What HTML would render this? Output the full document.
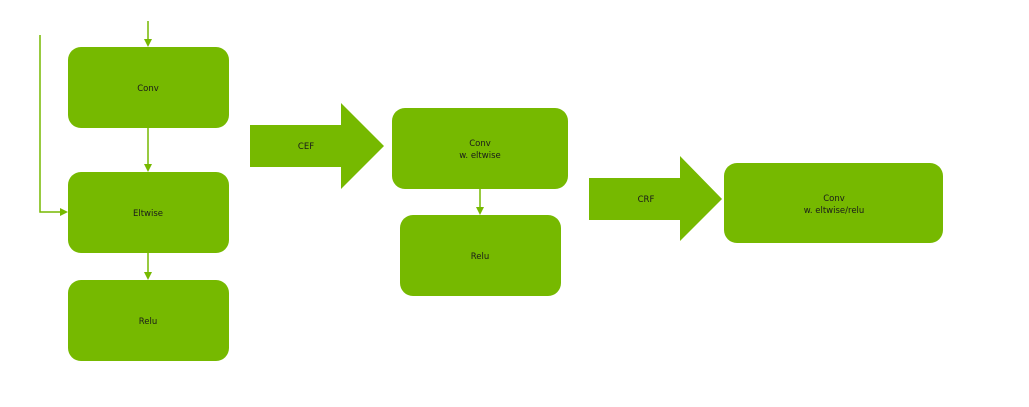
<!DOCTYPE html>
<html><head><meta charset="utf-8"><style>
html,body{margin:0;padding:0;background:#fff;}
svg{display:block;}
text{font-family:"DejaVu Sans","Liberation Sans",sans-serif;font-size:8.5px;fill:#1a1a1a;text-anchor:middle;}
</style></head><body>
<svg width="1029" height="407" viewBox="0 0 1029 407" xmlns="http://www.w3.org/2000/svg">
<g fill="#76b900">
<rect x="68" y="47" width="161" height="81" rx="13"/>
<rect x="68" y="172" width="161" height="81" rx="13"/>
<rect x="68" y="280" width="161" height="81" rx="13"/>
<rect x="392" y="108" width="176" height="81" rx="13"/>
<rect x="400" y="215" width="161" height="81" rx="13"/>
<rect x="724" y="163" width="219" height="80" rx="13"/>
<polygon points="250,125 341,125 341,103 384,146 341,189 341,167 250,167"/>
<polygon points="589,178 680,178 680,156 722,199 680,241 680,220 589,220"/>
</g>
<g stroke="#76b900" stroke-width="1.5" fill="none">
<line x1="148" y1="21" x2="148" y2="41"/>
<line x1="148" y1="128" x2="148" y2="166"/>
<line x1="148" y1="253" x2="148" y2="274"/>
<polyline points="40,35 40,212 62,212"/>
<line x1="480" y1="189" x2="480" y2="209"/>
</g>
<g fill="#76b900">
<polygon points="144,39 152,39 148,47"/>
<polygon points="144,164 152,164 148,172"/>
<polygon points="144,272 152,272 148,280"/>
<polygon points="60,208 60,216 68,212"/>
<polygon points="476,207 484,207 480,215"/>
</g>
<text x="148" y="91">Conv</text>
<text x="148" y="216">Eltwise</text>
<text x="148" y="324">Relu</text>
<text x="306" y="149">CEF</text>
<text x="480" y="146">Conv</text>
<text x="480" y="158">w. eltwise</text>
<text x="480" y="259">Relu</text>
<text x="646" y="202">CRF</text>
<text x="834" y="201">Conv</text>
<text x="834" y="213">w. eltwise/relu</text>
</svg>
</body></html>
